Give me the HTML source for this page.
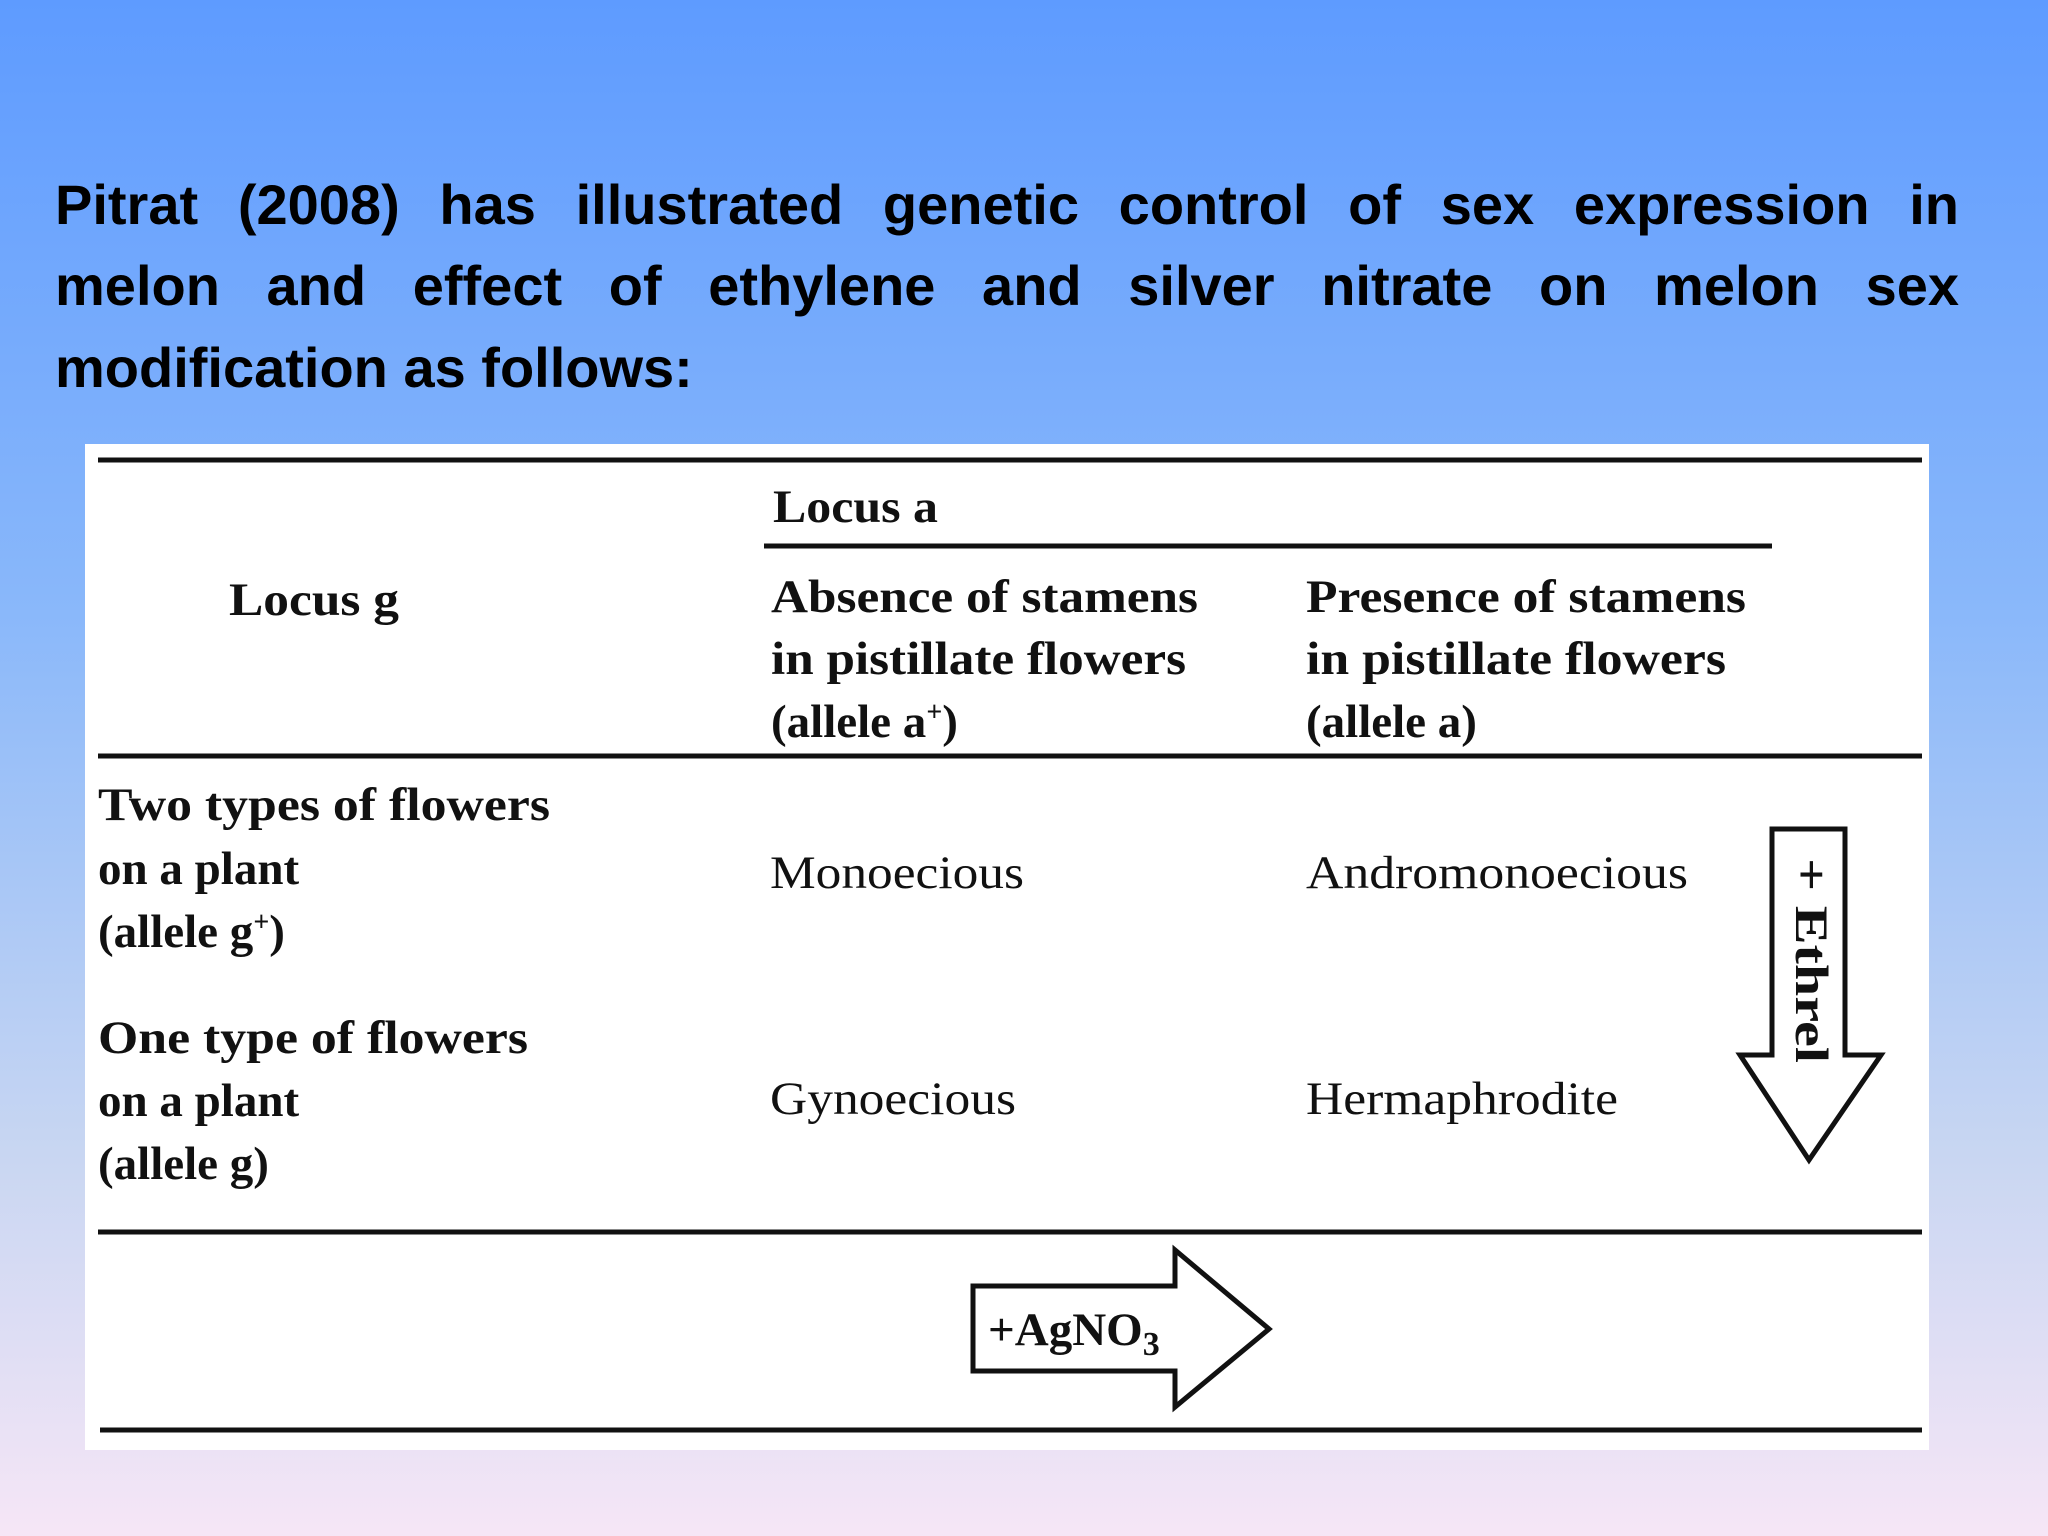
<!DOCTYPE html>
<html><head><meta charset="utf-8"><style>
html,body{margin:0;padding:0;}
body{width:2048px;height:1536px;overflow:hidden;background:linear-gradient(to bottom,#5e9bff 0%,#8ab8fa 40%,#c8d6f2 75%,#f6e6f6 100%);position:relative;font-family:"Liberation Sans",sans-serif;}
.l{position:absolute;left:55px;width:1904px;font-weight:bold;font-size:56px;line-height:81px;color:#000;text-align:justify;text-align-last:justify;white-space:nowrap;}
svg{position:absolute;left:0;top:0;}
svg text{font-family:"Liberation Serif",serif;font-size:47px;fill:#111;}
</style></head><body>
<div class="l" style="top:164px">Pitrat (2008) has illustrated genetic control of sex expression in</div>
<div class="l" style="top:245px">melon and effect of ethylene and silver nitrate on melon sex</div>
<div class="l" style="top:327px;text-align-last:left">modification as follows:</div>
<svg width="2048" height="1536">
<rect x="85" y="444" width="1844" height="1006" fill="#fff"/>
<g stroke="#111" stroke-width="5">
<line x1="98" y1="460" x2="1922" y2="460"/>
<line x1="764" y1="546" x2="1772" y2="546"/>
<line x1="98" y1="756" x2="1922" y2="756"/>
<line x1="98" y1="1232" x2="1922" y2="1232"/>
<line x1="100" y1="1430" x2="1922" y2="1430"/>
</g>
<g font-weight="bold">
<text x="773" y="522" textLength="165" lengthAdjust="spacingAndGlyphs">Locus a</text>
<text x="229" y="615" textLength="170" lengthAdjust="spacingAndGlyphs">Locus g</text>
<text x="771" y="612" textLength="427" lengthAdjust="spacingAndGlyphs">Absence of stamens</text>
<text x="771" y="674" textLength="415" lengthAdjust="spacingAndGlyphs">in pistillate flowers</text>
<text x="771" y="737">(allele a<tspan font-size="28" dy="-16">+</tspan><tspan dy="16">)</tspan></text>
<text x="1306" y="612" textLength="440" lengthAdjust="spacingAndGlyphs">Presence of stamens</text>
<text x="1306" y="674" textLength="420" lengthAdjust="spacingAndGlyphs">in pistillate flowers</text>
<text x="1306" y="737">(allele a)</text>
<text x="98" y="820" textLength="452" lengthAdjust="spacingAndGlyphs">Two types of flowers</text>
<text x="98" y="884">on a plant</text>
<text x="98" y="947">(allele g<tspan font-size="28" dy="-16">+</tspan><tspan dy="16">)</tspan></text>
<text x="98" y="1053" textLength="430" lengthAdjust="spacingAndGlyphs">One type of flowers</text>
<text x="98" y="1116">on a plant</text>
<text x="98" y="1179">(allele g)</text>
</g>
<text x="770" y="888" textLength="254" lengthAdjust="spacingAndGlyphs">Monoecious</text>
<text x="1306" y="888" textLength="382" lengthAdjust="spacingAndGlyphs">Andromonoecious</text>
<text x="770" y="1114" textLength="246" lengthAdjust="spacingAndGlyphs">Gynoecious</text>
<text x="1306" y="1114" textLength="312" lengthAdjust="spacingAndGlyphs">Hermaphrodite</text>
<polygon points="1772,829 1845,829 1845,1055 1881,1055 1809,1160 1740,1055 1772,1055" fill="#fff" stroke="#111" stroke-width="5"/>
<text transform="translate(1796,858) rotate(90)" font-weight="bold" font-size="44" textLength="205" lengthAdjust="spacingAndGlyphs">+ Ethrel</text>
<polygon points="973,1286 1175,1286 1175,1250 1269,1329 1175,1407 1175,1371 973,1371" fill="#fff" stroke="#111" stroke-width="5"/>
<text x="988" y="1345" font-weight="bold" font-size="48">+AgNO<tspan font-size="34" dy="10">3</tspan></text>
</svg>
</body></html>
